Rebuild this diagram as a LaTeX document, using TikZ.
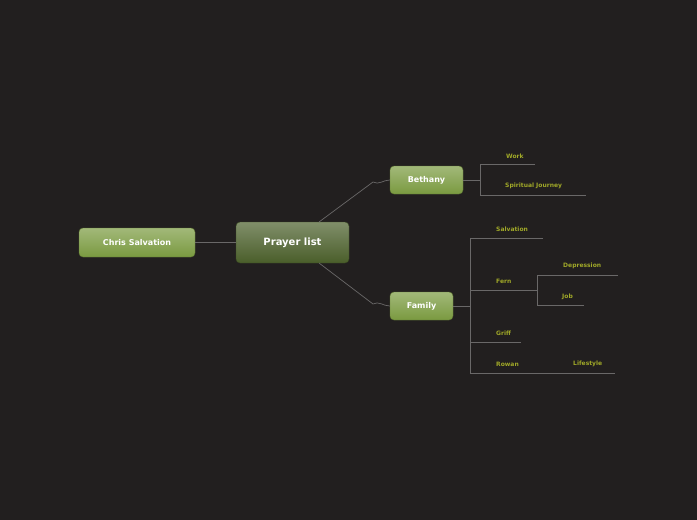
\documentclass[tikz,border=0pt]{standalone}
\usepackage{fontspec}
\setmainfont{DejaVu Sans}
\begin{document}
\begin{tikzpicture}[x=1pt,y=-1pt,
  topic/.style={rounded corners=4pt,top color=#1!70!white,bottom color=#1,draw=#1!80!black,line width=0.4pt,text=white,font=\bfseries\fontsize{8}{9}\selectfont,inner sep=0pt},
  lbl/.style={text=lblc,font=\bfseries\fontsize{6}{7}\selectfont,anchor=west,inner sep=0pt},
  conn/.style={draw=linec,line width=0.7pt}]
\definecolor{bg}{HTML}{221F1F}
\definecolor{lbl}{HTML}{7A9A40}
\definecolor{main}{HTML}{4A5E2A}
\definecolor{lblc}{HTML}{A0A828}
\definecolor{linec}{HTML}{6A6868}
\fill[bg] (0,0) rectangle (697,520);
\useasboundingbox (0,0) rectangle (697,520);
\node[topic=main,minimum width=113pt,minimum height=41pt,font=\bfseries\fontsize{10}{12}\selectfont] (p) at (292.5,242.5) {Prayer list};
\node[topic=lbl,minimum width=116pt,minimum height=29pt] (c) at (137,242.5) {Chris Salvation};
\node[topic=lbl,minimum width=73pt,minimum height=28pt] (b) at (426.5,180) {Bethany};
\node[topic=lbl,minimum width=63pt,minimum height=28pt] (f) at (421.5,306) {Family};
\coordinate (pt) at (319,222); \coordinate (pb) at (319,263);
\draw[conn] (c.east) -- (p.west);
\draw[conn] (pt) -- (373,182) to[out=-30,in=180] (b.west);
\draw[conn] (pb) -- (373,304) to[out=30,in=180] (f.west);
% Bethany
\coordinate (bj) at (480,180);
\draw[conn] (b.east) -- (bj);
\draw[conn] (535,164) -- (480,164) -- (480,195) -- (586,195);
\node[lbl] (w) at (506,156) {Work};
\node[lbl] (sj) at (505,186) {Spiritual Journey};
% Family
\coordinate (fj) at (470,306);
\draw[conn] (f.east) -- (fj);
\draw[conn] (543,238) -- (470,238) -- (470,373) -- (615,373);
\draw[conn] (470,290) -- (537,290);
\draw[conn] (618,275) -- (537,275) -- (537,305) -- (584,305);
\draw[conn] (470,342) -- (521,342);
\node[lbl] (s) at (496,229) {Salvation};
\node[lbl] (fe) at (496,281) {Fern};
\node[lbl] (d) at (563,266) {Depression};
\node[lbl] (j) at (562,297) {Job};
\node[lbl] (g) at (496,333) {Griff};
\node[lbl] (r) at (496,364) {Rowan};
\node[lbl] (l) at (573,364) {Lifestyle};
\end{tikzpicture}
\end{document}
